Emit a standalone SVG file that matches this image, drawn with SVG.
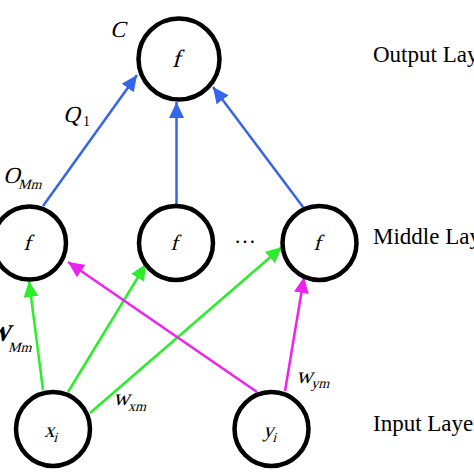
<svg xmlns="http://www.w3.org/2000/svg" width="474" height="474" viewBox="0 0 474 474">
<style>
.node{fill:#fff;stroke:#000;stroke-width:4.5}
.t{font-family:"Liberation Serif","Times New Roman",serif;fill:#000}
.blue{stroke:#3565e8;stroke-width:2.5;fill:none}
.green{stroke:#2bee2b;stroke-width:2.5;fill:none}
.mag{stroke:#ee22ee;stroke-width:2.5;fill:none}
</style>
<defs>
<marker id="ab" markerUnits="userSpaceOnUse" markerWidth="17" markerHeight="15" refX="16" refY="7.5" orient="auto"><path d="M0,0 L16,7.5 L0,15 z" fill="#3565e8"/></marker>
<marker id="ag" markerUnits="userSpaceOnUse" markerWidth="17" markerHeight="15" refX="16" refY="7.5" orient="auto"><path d="M0,0 L16,7.5 L0,15 z" fill="#2bee2b"/></marker>
<marker id="am" markerUnits="userSpaceOnUse" markerWidth="17" markerHeight="15" refX="16" refY="7.5" orient="auto"><path d="M0,0 L16,7.5 L0,15 z" fill="#ee22ee"/></marker>
</defs>
<rect width="474" height="474" fill="#fff"/>
<g id="connectors">
<line class="blue" x1="43" y1="206" x2="137" y2="75" marker-end="url(#ab)"/>
<line class="blue" x1="176.5" y1="205" x2="176.5" y2="102" marker-end="url(#ab)"/>
<line class="blue" x1="303" y1="207" x2="213" y2="87" marker-end="url(#ab)"/>
<line class="green" x1="43" y1="390" x2="29" y2="281" marker-end="url(#ag)"/>
<line class="green" x1="68" y1="392" x2="146" y2="264" marker-end="url(#ag)"/>
<line class="green" x1="90" y1="413" x2="282" y2="247" marker-end="url(#ag)"/>
<line class="mag" x1="257" y1="392" x2="68" y2="262" marker-end="url(#am)"/>
<line class="mag" x1="285" y1="391" x2="304" y2="277" marker-end="url(#am)"/>
</g>
<g id="output">
<circle class="node" cx="179" cy="59" r="40.5"/>
<text class="t" transform="translate(176,67) skewX(-15)" font-size="25" text-anchor="middle">f</text>
</g>
<g id="middle1">
<circle class="node" cx="29.5" cy="243" r="36.5"/>
<text class="t" transform="translate(27,250) skewX(-15)" font-size="22" text-anchor="middle">f</text>
</g>
<g id="middle2">
<circle class="node" cx="176" cy="243" r="37"/>
<text class="t" transform="translate(174,250) skewX(-15)" font-size="22" text-anchor="middle">f</text>
</g>
<g id="middle3">
<circle class="node" cx="319.5" cy="243" r="37"/>
<text class="t" transform="translate(317,250) skewX(-15)" font-size="22" text-anchor="middle">f</text>
</g>
<g id="inputx">
<circle class="node" cx="53" cy="429" r="37"/>
<text class="t" transform="translate(44,437) skewX(-15)" font-size="21">x<tspan font-size="14" dy="5">i</tspan></text>
</g>
<g id="inputy">
<circle class="node" cx="271.5" cy="429" r="37"/>
<text class="t" transform="translate(263,437) skewX(-15)" font-size="21">y<tspan font-size="14" dy="5">i</tspan></text>
</g>
<g id="labels">
<text class="t" transform="translate(110,37) skewX(-15)" font-size="23">C</text>
<text class="t" transform="translate(63,122) skewX(-15)" font-size="23">Q</text>
<text class="t" x="83" y="126" font-size="14">1</text>
<text class="t" transform="translate(3,183) skewX(-15)" font-size="23">O<tspan font-size="14" dy="6">Mm</tspan></text>
<text class="t" transform="translate(-14,341) skewX(-15)" font-size="24" font-weight="bold">W</text>
<text class="t" transform="translate(8,352) skewX(-15)" font-size="14">Mm</text>
<text class="t" transform="translate(113,405) skewX(-15)" font-size="23">w<tspan font-size="14" dy="6">xm</tspan></text>
<text class="t" transform="translate(296,383) skewX(-15)" font-size="23">w<tspan font-size="14" dy="5">ym</tspan></text>
<text class="t" x="245" y="243" font-size="22" text-anchor="middle">…</text>
<text class="t" x="373" y="62" font-size="23">Output Layer</text>
<text class="t" x="373" y="244" font-size="23">Middle Layer</text>
<text class="t" x="373" y="431" font-size="23">Input Layer</text>
</g>
</svg>
